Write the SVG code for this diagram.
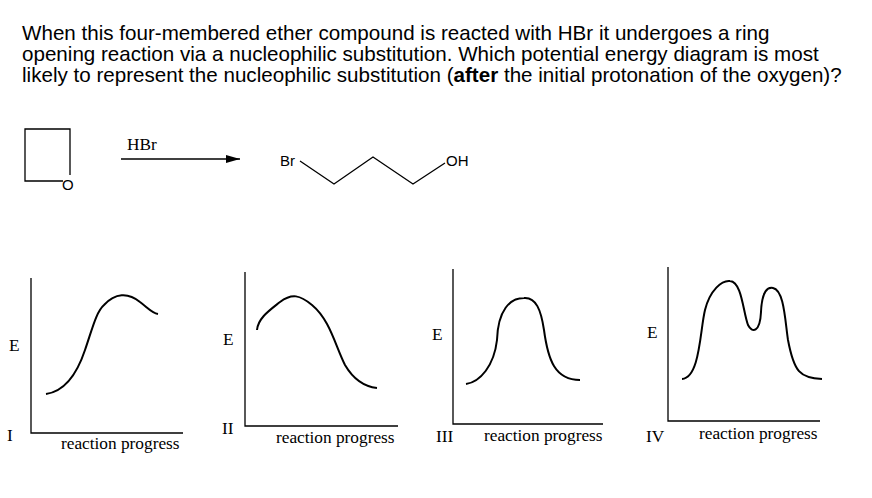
<svg xmlns="http://www.w3.org/2000/svg" width="872" height="498" viewBox="0 0 872 498">
<style>
.q{font-family:"Liberation Sans",Arial,sans-serif;font-size:20.6px;fill:#000}
.s{font-family:"Liberation Serif","Times New Roman",serif;font-size:17.3px;fill:#000}
.a{font-family:"Liberation Sans",Arial,sans-serif;font-size:15px;fill:#000}
.ln{fill:none;stroke:#000;stroke-width:1.3}
.cv{fill:none;stroke:#000;stroke-width:2}
</style>
<rect width="872" height="498" fill="#fff"/>
<g id="question">
<text class="q" x="22" y="40">When this four-membered ether compound is reacted with HBr it undergoes a ring</text>
<text class="q" x="22" y="61">opening reaction via a nucleophilic substitution. Which potential energy diagram is most</text>
<text class="q" x="22" y="82">likely to represent the nucleophilic substitution (<tspan font-weight="bold">after</tspan> the initial protonation of the oxygen)?</text>
</g>
<defs><marker id="ah" markerWidth="14" markerHeight="10" refX="14" refY="5" orient="auto" markerUnits="userSpaceOnUse"><path d="M0,1 L14,5 L0,9 Z" fill="#000"/></marker></defs>
<g id="reaction">
<path class="ln" d="M63,181 H25 V129 H70 V175"/>
<text class="a" x="62" y="190">O</text>
<line class="ln" x1="121" y1="159" x2="240" y2="159" marker-end="url(#ah)"/>
<text class="s" x="127" y="150" font-size="18">HBr</text>
<text class="a" x="280" y="166">Br</text>
<path class="ln" d="M300,161 L334,184 L373,157 L413,184 L445,163"/>
<text class="a" x="446" y="166">OH</text>
</g>
<g id="graphI">
<path class="ln" d="M31,278 V433 H183"/>
<path class="cv" d="M46,394 C60,392 75,380 85,350 C92,330 96,312 104,305 C115,293 128,292 140,302 C148,308 152,313 158,314"/>
<text class="s" x="9" y="351">E</text><text class="s" x="7" y="441">I</text>
<text class="s" x="61" y="449">reaction progress</text>
</g>
<g id="graphII">
<path class="ln" d="M245,272 V426 H398"/>
<path class="cv" d="M257,330 C258,318 270,310 280,302 C292,293 300,295 312,305 C330,320 335,345 345,365 C355,382 368,387 377,388"/>
<text class="s" x="223" y="345">E</text><text class="s" x="222" y="434">II</text>
<text class="s" x="276" y="443">reaction progress</text>
</g>
<g id="graphIII">
<path class="ln" d="M453,269 V424 H603"/>
<path class="cv" d="M466,384 C480,382 494,366 497,340 C498,310 510,298 524,298 C536,297 541,310 544,330 C548,360 555,380 580,380"/>
<text class="s" x="432" y="340">E</text><text class="s" x="436" y="442">III</text>
<text class="s" x="484" y="441">reaction progress</text>
</g>
<g id="graphIV">
<path class="ln" d="M668,267 V421 H820"/>
<path class="cv" d="M682,379 C700,378 700,330 705,310 C710,290 722,280 730,281 C742,282 743,312 748,325 C752,333 760,333 761,312 C762,290 768,287 773,288 C784,290 785,320 788,340 C794,372 800,378 822,379"/>
<text class="s" x="647" y="338">E</text><text class="s" x="646" y="442">IV</text>
<text class="s" x="699" y="439">reaction progress</text>
</g>
</svg>
